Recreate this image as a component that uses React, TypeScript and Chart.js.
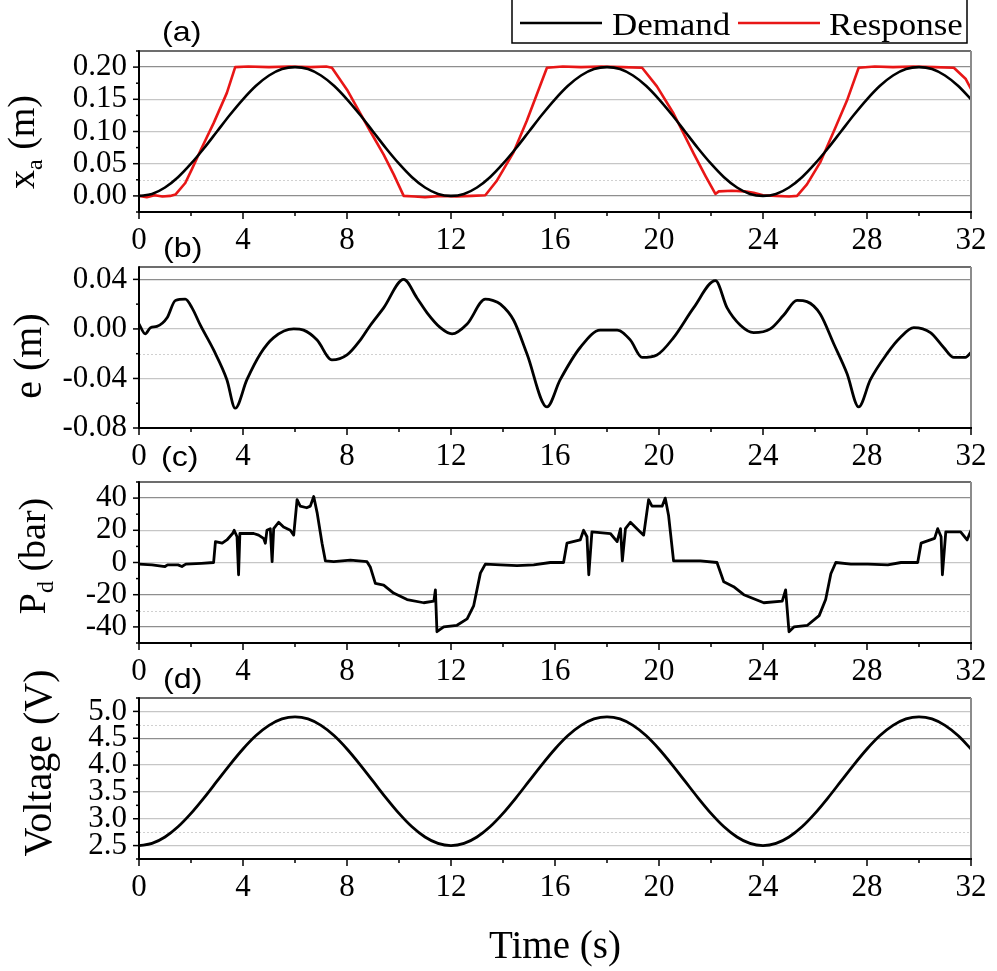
import React, { useEffect, useRef } from "react";
import { Chart, registerables } from "chart.js";

Chart.register(...registerables);

const SERIF = '"Liberation Serif", "Times New Roman", serif';
const SANS = '"Liberation Sans", Arial, sans-serif';

// ---------------- data ----------------
const xTicks = [0, 4, 8, 12, 16, 20, 24, 28, 32];

const tGrid = [
  0, 0.5, 1, 1.5, 2, 2.5, 3, 3.5, 4, 4.5, 5, 5.5, 6, 6.5, 7, 7.5, 8, 8.5, 9, 9.5, 10, 10.5, 11, 11.5, 12,
  12.5, 13, 13.5, 14, 14.5, 15, 15.5, 16, 16.5, 17, 17.5, 18, 18.5, 19, 19.5, 20, 20.5, 21, 21.5, 22, 22.5, 23, 23.5, 24,
  24.5, 25, 25.5, 26, 26.5, 27, 27.5, 28, 28.5, 29, 29.5, 30, 30.5, 31, 31.5, 32,
];

// (a) demand displacement (m)
const demand = [
  0, 0.003, 0.013, 0.029, 0.05, 0.074, 0.1, 0.126, 0.15, 0.171, 0.187, 0.197, 0.2,
  0.197, 0.187, 0.171, 0.15, 0.126, 0.1, 0.074, 0.05, 0.029, 0.013, 0.003, 0,
  0.003, 0.013, 0.029, 0.05, 0.074, 0.1, 0.126, 0.15, 0.171, 0.187, 0.197, 0.2,
  0.197, 0.187, 0.171, 0.15, 0.126, 0.1, 0.074, 0.05, 0.029, 0.013, 0.003, 0,
  0.003, 0.013, 0.029, 0.05, 0.074, 0.1, 0.126, 0.15, 0.171, 0.187, 0.197, 0.2, 0.197, 0.187, 0.171, 0.15,
];

// (a) response displacement (m)
const tResp = [
  0, 0.3, 0.6, 0.9, 1.2, 1.4, 1.78, 2.04, 2.36, 2.87, 3.38, 3.7, 4.2, 5.0, 5.8, 6.6, 7.2, 7.42,
  8.0, 8.51, 8.9, 9.41, 9.8, 10.18, 10.6, 11.0, 11.6, 12.2, 12.8, 13.32, 13.77, 14.41, 14.92, 15.69,
  16.3, 17.0, 17.8, 18.6, 19.35, 19.92, 20.56, 21.33, 21.8, 22.17, 22.3, 22.8, 23.3, 23.64, 24.0,
  24.5, 25.0, 25.31, 25.69, 26.2, 26.72, 27.23, 27.68, 28.3, 29.0, 29.8, 30.6, 31.34, 31.79, 32.0,
];
const response = [
  0, -0.002, 0.001, -0.001, 0, 0.002, 0.02, 0.042, 0.07, 0.113, 0.16, 0.2, 0.201, 0.2, 0.201, 0.2, 0.201, 0.199,
  0.165, 0.128, 0.1, 0.064, 0.033, 0, -0.001, -0.002, 0, -0.001, 0, 0.001, 0.024, 0.068, 0.117, 0.199,
  0.201, 0.2, 0.201, 0.2, 0.199, 0.17, 0.128, 0.066, 0.03, 0.003, 0.007, 0.008, 0.007, 0.005, 0.001,
  0, -0.001, 0, 0.018, 0.052, 0.1, 0.148, 0.199, 0.201, 0.2, 0.201, 0.2, 0.199, 0.182, 0.166,
];

// (b) error (m)
const tErr = [
  0, 0.24, 0.44, 0.69, 1.08, 1.4, 1.78, 2.04, 2.36, 2.87, 3.38, 3.7, 4.15, 4.67, 5.18, 5.95, 6.33, 6.85,
  7.42, 8.0, 8.51, 8.9, 9.41, 10.18, 10.69, 11.08, 11.59, 12.04, 12.62, 13.32, 13.6, 13.9, 14.41, 14.92,
  15.69, 16.2, 16.97, 17.74, 18.39, 18.9, 19.35, 19.92, 20.56, 21.33, 22.17, 22.62, 23.13, 23.64, 24.28,
  24.79, 25.31, 25.69, 26.2, 26.72, 27.23, 27.68, 28.13, 28.77, 29.28, 29.8, 30.44, 30.95, 31.34, 31.79, 32.0,
];
const err = [
  0.004, -0.004, 0.001, 0.002, 0.009, 0.023, 0.024, 0.017, 0.003, -0.017, -0.041, -0.064, -0.041, -0.02, -0.007, 0, -0.001, -0.009,
  -0.025, -0.021, -0.009, 0.003, 0.017, 0.04, 0.025, 0.013, 0.001, -0.004, 0.004, 0.024, 0.023, 0.02, 0.007, -0.02,
  -0.063, -0.041, -0.015, -0.001, -0.001, -0.009, -0.023, -0.021, -0.007, 0.017, 0.039, 0.017, 0.003, -0.003, 0,
  0.011, 0.023, 0.022, 0.012, -0.012, -0.036, -0.063, -0.041, -0.02, -0.007, 0.001, -0.003, -0.015, -0.023, -0.023, -0.019,
];

// (c) differential pressure (bar)
const tPd = [
  0, 0.5, 1.0, 1.1, 1.5, 1.65, 1.8, 2.4, 2.87, 2.94, 3.2, 3.38, 3.6, 3.66, 3.77, 3.83, 3.88, 3.95, 4.41, 4.6,
  4.79, 4.86, 4.92, 5.05, 5.12, 5.18, 5.37, 5.56, 5.82, 5.95, 6.08, 6.2, 6.45, 6.59, 6.72, 6.85, 7.04, 7.17,
  7.49, 8.13, 8.77, 8.9, 9.09, 9.41, 9.79, 10.31, 10.95, 11.34, 11.4, 11.46, 11.72, 12.23, 12.62, 12.87,
  13.13, 13.32, 13.9, 14.54, 15.18, 15.82, 16.33, 16.46, 16.97, 17.1, 17.23, 17.3, 17.42, 18.13, 18.39,
  18.52, 18.59, 18.71, 18.9, 19.28, 19.41, 19.6, 19.73, 20.12, 20.24, 20.37, 20.56, 21.59, 22.23, 22.49,
  22.87, 23.26, 24.03, 24.74, 24.87, 25.0, 25.19, 25.71, 26.16, 26.41, 26.61, 26.8, 27.38, 28.03, 28.8,
  29.31, 29.95, 30.08, 30.6, 30.72, 30.85, 30.9, 31.03, 31.6, 31.85, 32,
];
const pd = [
  -1, -1.5, -2.5, -1.5, -1.5, -2.5, -1, -0.5, 0, 13, 12, 14, 18, 20, 16, -7.6, 18, 18, 18, 17,
  15, 12, 20, 21, 0.5, 21, 25, 22, 20, 17, 39, 35, 34, 35, 41, 31, 12, 1,
  0.5, 1.5, 0.5, -3, -13, -14, -19, -23, -25, -24, -17, -43, -40, -39, -35, -27,
  -6.6, -1, -1.5, -2, -1.5, 0, 0, 12, 14, 20, 16, -7.6, 19, 18, 13,
  21, 1, 21, 25, 19, 17, 39, 35, 35, 40, 29, 1, 1, 0, -12,
  -15, -20, -25, -24, -17, -43, -40, -39, -33, -23, -7, 0, -1, -1, -1.5,
  0, 0, 12, 15, 21, 16, -7.6, 19, 19, 14, 20,
];

// (d) valve voltage (V)
const voltage = [
  2.5, 2.54, 2.66, 2.85, 3.1, 3.39, 3.7, 4.01, 4.3, 4.55, 4.74, 4.86, 4.9,
  4.86, 4.74, 4.55, 4.3, 4.01, 3.7, 3.39, 3.1, 2.85, 2.66, 2.54, 2.5,
  2.54, 2.66, 2.85, 3.1, 3.39, 3.7, 4.01, 4.3, 4.55, 4.74, 4.86, 4.9,
  4.86, 4.74, 4.55, 4.3, 4.01, 3.7, 3.39, 3.1, 2.85, 2.66, 2.54, 2.5,
  2.54, 2.66, 2.85, 3.1, 3.39, 3.7, 4.01, 4.3, 4.55, 4.74, 4.86, 4.9, 4.86, 4.74, 4.55, 4.3,
];

const yTicksA = [0, 0.05, 0.1, 0.15, 0.2];
const yTicksB = [-0.08, -0.04, 0, 0.04];
const yTicksC = [-40, -20, 0, 20, 40];
const yTicksD = [2.5, 3.0, 3.5, 4.0, 4.5, 5.0];

const legendLabels = ["Demand", "Response"];

// ---------------- layout / styles ----------------
const W = 997;
const PLOT_LEFT = 139;
const PLOT_RIGHT = 971;
const PLOT_H = 161;
const RED = "rgb(232,22,22)";

type DS = { t: number[]; v: number[]; color: string; width: number; smooth: boolean };
type TitlePart = { text: string; sub?: boolean };
type Panel = {
  key: string;
  chartTop: number;
  padTop: number;
  axisH: number;
  yMin: number;
  yMax: number;
  yTicks: number[];
  minor: number;
  fmt: (v: number) => string;
  dark: number[];
  dotted: number[];
  title: TitlePart[];
  titleSize: number;
  titleX: number;
  titleY: number;
  label: string;
  labelX: number;
  labelY: number;
  legend?: boolean;
  xTitle?: string;
  datasets: DS[];
};

const panels: Panel[] = [
  {
    key: "a", chartTop: 51, padTop: 51, axisH: 50,
    yMin: -0.025, yMax: 0.225, yTicks: yTicksA, minor: 0.025,
    fmt: (v) => v.toFixed(2), dark: [0, 0.2], dotted: [0.025],
    title: [{ text: "x" }, { text: "a", sub: true }, { text: " (m)" }], titleSize: 38, titleX: 34, titleY: 142,
    label: "(a)", labelX: 162, labelY: 41, legend: true,
    datasets: [
      { t: tGrid, v: demand, color: "#000", width: 2.6, smooth: true },
      { t: tResp, v: response, color: RED, width: 2.6, smooth: false },
    ],
  },
  {
    key: "b", chartTop: 267, padTop: 45, axisH: 50,
    yMin: -0.08, yMax: 0.05, yTicks: yTicksB, minor: 0.02,
    fmt: (v) => v.toFixed(2), dark: [0.04], dotted: [-0.02],
    title: [{ text: "e (m)" }], titleSize: 40, titleX: 41, titleY: 356,
    label: "(b)", labelX: 163, labelY: 257,
    datasets: [{ t: tErr, v: err, color: "#000", width: 2.8, smooth: true }],
  },
  {
    key: "c", chartTop: 482, padTop: 45, axisH: 50,
    yMin: -50, yMax: 50, yTicks: yTicksC, minor: 10,
    fmt: (v) => String(Math.round(v)), dark: [40, -20, -40], dotted: [-30],
    title: [{ text: "P" }, { text: "d", sub: true }, { text: " (bar)" }], titleSize: 38, titleX: 45, titleY: 556,
    label: "(c)", labelX: 161, labelY: 466,
    datasets: [{ t: tPd, v: pd, color: "#000", width: 2.8, smooth: false }],
  },
  {
    key: "d", chartTop: 698, padTop: 45, axisH: 112,
    yMin: 2.25, yMax: 5.25, yTicks: yTicksD, minor: 0.25,
    fmt: (v) => v.toFixed(1), dark: [4.5], dotted: [4.75, 2.75],
    title: [{ text: "Voltage (V)" }], titleSize: 40, titleX: 51, titleY: 763,
    label: "(d)", labelX: 163, labelY: 688, xTitle: "Time (s)",
    datasets: [{ t: tGrid, v: voltage, color: "#000", width: 2.8, smooth: true }],
  },
];

// ---------------- drawing helpers ----------------
function seg(ctx: CanvasRenderingContext2D, x1: number, y1: number, x2: number, y2: number) {
  ctx.beginPath();
  ctx.moveTo(x1, y1);
  ctx.lineTo(x2, y2);
  ctx.stroke();
}

function stretchedText(
  ctx: CanvasRenderingContext2D, s: string, x: number, y: number, font: string,
  align: CanvasTextAlign, sx: number
) {
  ctx.save();
  ctx.font = font;
  ctx.fillStyle = "#000";
  ctx.textAlign = align;
  ctx.textBaseline = "alphabetic";
  ctx.translate(x, y);
  ctx.scale(sx, 1);
  ctx.fillText(s, 0, 0);
  ctx.restore();
}

function rotatedTitle(ctx: CanvasRenderingContext2D, parts: TitlePart[], baseX: number, cy: number, size: number) {
  ctx.save();
  ctx.translate(baseX, cy);
  ctx.rotate(-Math.PI / 2);
  ctx.fillStyle = "#000";
  ctx.textAlign = "left";
  ctx.textBaseline = "alphabetic";
  const fonts = parts.map((p) => `${p.sub ? Math.round(size * 0.62) : size}px ${SERIF}`);
  let total = 0;
  const widths = parts.map((p, i) => {
    ctx.font = fonts[i];
    const w = ctx.measureText(p.text).width;
    total += w;
    return w;
  });
  let u = -total / 2;
  parts.forEach((p, i) => {
    ctx.font = fonts[i];
    ctx.fillText(p.text, u, p.sub ? size * 0.2 : 0);
    u += widths[i];
  });
  ctx.restore();
}

const near = (a: number, b: number) => Math.abs(a - b) < 1e-9;

function decor(p: Panel) {
  const offY = p.chartTop - p.padTop;
  return {
    id: "decor" + p.key,
    beforeDatasetsDraw(chart: any) {
      const { ctx, chartArea: a, scales } = chart;
      ctx.save();
      ctx.strokeStyle = "#d0d0d0";
      ctx.lineWidth = 1;
      ctx.setLineDash([2, 2]);
      p.dotted.forEach((v) => {
        const py = Math.round(scales.y.getPixelForValue(v)) + 0.5;
        seg(ctx, a.left, py, a.right, py);
      });
      ctx.restore();
    },
    afterDraw(chart: any) {
      const { ctx, chartArea: a, scales } = chart;
      const xs = scales.x;
      const ys = scales.y;
      ctx.save();
      ctx.lineCap = "butt";
      // frame
      ctx.strokeStyle = "#3c3c3c";
      ctx.lineWidth = 1.5;
      seg(ctx, a.left, a.top, a.right, a.top);
      ctx.strokeStyle = "#8c8c8c";
      ctx.lineWidth = 2;
      seg(ctx, a.right, a.top, a.right, a.bottom);
      ctx.strokeStyle = "#000";
      ctx.lineWidth = 2;
      seg(ctx, a.left, a.top - 0.75, a.left, a.bottom + 1);
      seg(ctx, a.left - 1, a.bottom, a.right + 1, a.bottom);
      // x ticks (major + minor)
      ctx.lineWidth = 1.5;
      for (let i = 0; i <= 16; i++) {
        const v = i * 2;
        const px = xs.getPixelForValue(v);
        const major = xTicks.some((t) => near(t, v));
        seg(ctx, px, a.bottom, px, a.bottom + (major ? 7 : 4));
      }
      // y ticks (major + minor)
      const n = Math.floor((p.yMax - p.yMin) / p.minor + 1e-6);
      for (let i = 0; i <= n; i++) {
        const v = p.yMin + i * p.minor;
        const py = ys.getPixelForValue(v);
        const major = p.yTicks.some((t) => Math.abs(t - v) < p.minor * 1e-3);
        seg(ctx, a.left - (major ? 6 : 3), py, a.left, py);
      }
      ctx.restore();

      // axis title
      rotatedTitle(ctx, p.title, p.titleX, p.titleY - offY, p.titleSize);
      // panel label
      stretchedText(ctx, p.label, p.labelX, p.labelY - offY, `28px ${SANS}`, "left", 1.15);

      if (p.legend) {
        ctx.save();
        ctx.strokeStyle = "#000";
        ctx.lineWidth = 1.5;
        ctx.strokeRect(512, -3, 455, 46);
        ctx.lineWidth = 2.6;
        ctx.strokeStyle = "#000";
        seg(ctx, 520, 23, 602, 23);
        ctx.strokeStyle = RED;
        seg(ctx, 738, 23, 820, 23);
        ctx.restore();
        stretchedText(ctx, legendLabels[0], 612, 35, `32px ${SERIF}`, "left", 1.09);
        stretchedText(ctx, legendLabels[1], 829, 35, `32px ${SERIF}`, "left", 1.09);
      }
      if (p.xTitle) {
        stretchedText(ctx, p.xTitle, (PLOT_LEFT + PLOT_RIGHT) / 2, 958 - offY, `39px ${SERIF}`, "center", 1);
      }
    },
  };
}

function PanelChart({ p }: { p: Panel }) {
  const ref = useRef<HTMLCanvasElement | null>(null);
  const h = p.padTop + PLOT_H + p.axisH;

  useEffect(() => {
    if (!ref.current) return;
    const chart = new Chart(ref.current, {
      type: "line",
      data: {
        datasets: p.datasets.map((d) => ({
          data: d.t.map((t, i) => ({ x: t, y: d.v[i] })),
          borderColor: d.color,
          backgroundColor: d.color,
          borderWidth: d.width,
          pointRadius: 0,
          fill: false,
          tension: d.smooth ? 0.3 : 0,
          cubicInterpolationMode: d.smooth ? "monotone" : "default",
          borderJoinStyle: "round",
          borderCapStyle: "round",
        })),
      },
      options: {
        responsive: false,
        maintainAspectRatio: false,
        animation: false,
        devicePixelRatio: 1,
        events: [],
        layout: { padding: { top: p.padTop, right: W - PLOT_RIGHT, bottom: 0, left: 0 } },
        plugins: {
          legend: { display: false },
          tooltip: { enabled: false },
          title: { display: false },
        },
        scales: {
          x: {
            type: "linear",
            min: 0,
            max: 32,
            afterBuildTicks: (s: any) => {
              s.ticks = xTicks.map((v) => ({ value: v }));
            },
            afterFit: (s: any) => {
              s.height = p.axisH;
            },
            grid: { display: false, drawTicks: false },
            border: { display: false },
            ticks: {
              autoSkip: false,
              maxRotation: 0,
              minRotation: 0,
              padding: 10,
              color: "#000",
              font: { family: SERIF, size: 31 },
              callback: (v: any) => String(v),
            },
          },
          y: {
            type: "linear",
            min: p.yMin,
            max: p.yMax,
            afterBuildTicks: (s: any) => {
              s.ticks = p.yTicks.map((v) => ({ value: v }));
            },
            afterFit: (s: any) => {
              s.width = PLOT_LEFT;
            },
            grid: {
              drawTicks: false,
              lineWidth: 1.3,
              color: (c: any) => (p.dark.some((d) => Math.abs(d - c.tick?.value) < 1e-9) ? "#8e8e8e" : "#c6c6c6"),
            },
            border: { display: false },
            ticks: {
              autoSkip: false,
              padding: 12,
              color: "#000",
              font: { family: SERIF, size: 31 },
              callback: (v: any) => p.fmt(Number(v)),
            },
          },
        },
      },
      plugins: [decor(p)],
    } as any);
    return () => chart.destroy();
  }, [p]);

  return (
    <canvas
      ref={ref}
      width={W}
      height={h}
      style={{ position: "absolute", left: 0, top: p.chartTop - p.padTop, width: W, height: h, display: "block" }}
    />
  );
}

export default function App() {
  return (
    <div style={{ position: "absolute", left: 0, top: 0, width: W, height: 971, background: "#fff", overflow: "hidden" }}>
      {panels.map((p) => (
        <PanelChart key={p.key} p={p} />
      ))}
    </div>
  );
}
